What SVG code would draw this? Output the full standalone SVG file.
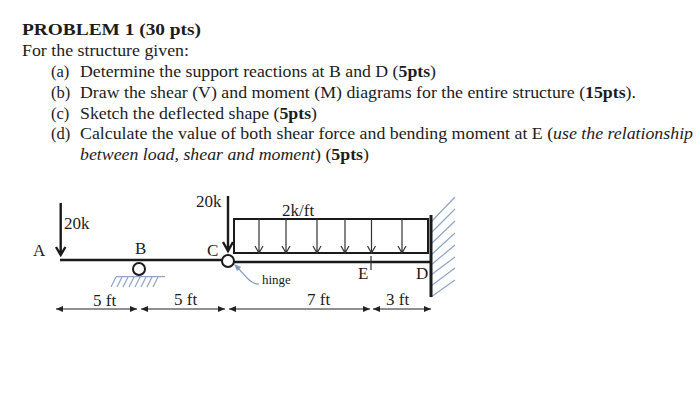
<svg xmlns="http://www.w3.org/2000/svg" width="700" height="405" viewBox="0 0 700 405">
<style>
text{font-family:"Liberation Serif","Times New Roman",serif;fill:#1c1c1c}
.t{font-size:16.5px}
.d{font-size:17px}
.b{font-weight:bold}
.i{font-style:italic}
.beam{stroke:#1a1a1a;stroke-width:2.6;fill:none}
.box{stroke:#1a1a1a;stroke-width:2;fill:none}
.load{stroke:#1a1a1a;stroke-width:2.4;fill:none}
.thin{stroke:#333;stroke-width:1.2;fill:none}
.hatch{stroke:#8fa6c8;stroke-width:1.2;fill:none}
.dim{stroke:#222;stroke-width:1;fill:none;marker-start:url(#ds);marker-end:url(#de)}
.hinge{fill:#fff;stroke:#1a1a1a;stroke-width:2}
</style>
<defs>
<marker id="de" markerUnits="userSpaceOnUse" markerWidth="7" markerHeight="6" refX="7" refY="3" orient="auto"><path d="M0 0L7 3L0 6Z" fill="#222"/></marker>
<marker id="ds" markerUnits="userSpaceOnUse" markerWidth="7" markerHeight="6" refX="0" refY="3" orient="auto"><path d="M7 0L0 3L7 6Z" fill="#222"/></marker>
</defs>
<rect width="700" height="405" fill="#fff"/>
<g id="problem-text">
<text class="t b" x="22" y="35" textLength="179" lengthAdjust="spacingAndGlyphs">PROBLEM 1 (30 pts)</text>
<text class="t" x="22" y="56" textLength="167" lengthAdjust="spacingAndGlyphs">For the structure given:</text>
<text class="t" x="51" y="77">(a)</text>
<text class="t" x="80" y="77" textLength="356" lengthAdjust="spacingAndGlyphs">Determine the support reactions at B and D (<tspan class="b">5pts</tspan>)</text>
<text class="t" x="51" y="98">(b)</text>
<text class="t" x="80" y="98" textLength="556" lengthAdjust="spacingAndGlyphs">Draw the shear (V) and moment (M) diagrams for the entire structure (<tspan class="b">15pts</tspan>).</text>
<text class="t" x="51" y="119">(c)</text>
<text class="t" x="80" y="119" textLength="237" lengthAdjust="spacingAndGlyphs">Sketch the deflected shape (<tspan class="b">5pts</tspan>)</text>
<text class="t" x="51" y="139">(d)</text>
<text class="t" x="80" y="139" textLength="613" lengthAdjust="spacingAndGlyphs">Calculate the value of both shear force and bending moment at E (<tspan class="i">use the relationship</tspan></text>
<text class="t" x="80" y="160" textLength="289" lengthAdjust="spacingAndGlyphs"><tspan class="i">between load, shear and moment</tspan>) (<tspan class="b">5pts</tspan>)</text>
</g>
<g id="connectors">
<path class="hatch" d="M431 222L455 197M431 233L455 209M431 244L455 221M431 255L455 233M431 265L455 245M431 275L455 257M431 286L455 268M431 297L455 280"/>
<path class="hatch" d="M116 276.700H165M111 287L116 277M117 287L122 277M123 287L128 277M129 287L134 277M135 287L140 277M141 287L146 277M147 287L152 277M153 287L158 277"/>
<path class="beam" d="M60 260H228M228 262H431"/>
<path class="beam" style="stroke-width:3" d="M431 215V297"/>
<rect class="box" x="234" y="219" width="194" height="34"/>
<path class="load" d="M60.700 203V254M56 247L60.700 255L65.400 247"/>
<path class="load" d="M228 196V250M223 242L228 251L233 242"/>
<g class="thin">
<path d="M259 219V252M255 246L259 253L263 246"/>
<path d="M286 219V252M282 246L286 253L290 246"/>
<path d="M317 219V252M313 246L317 253L321 246"/>
<path d="M345 219V252M341 246L345 253L349 246"/>
<path d="M371.500 219V252M367.500 246L371.500 253L375.500 246"/>
<path d="M402 219V252M398 246L402 253L406 246"/>
</g>
<path class="thin" d="M371 256V270"/>
<path d="M259 284C250 284 247 277 236 266" stroke="#7f98bf" stroke-width="1.2" fill="none"/>
<path d="M234 264L241 267L237 271Z" fill="#7f98bf"/>
<path class="dim" d="M56 309H137"/>
<path class="dim" d="M141 309H225"/>
<path class="dim" d="M229 309H370"/>
<path class="dim" d="M373 309H431"/>
</g>
<g id="node-A"><text class="d" x="33" y="256">A</text></g>
<g id="node-B"><circle class="hinge" cx="139" cy="269" r="6"/><text class="d" x="135" y="254">B</text></g>
<g id="node-C"><circle class="hinge" cx="228" cy="261" r="6"/><text class="d" x="207" y="256">C</text></g>
<g id="node-D"><text class="d" x="416" y="279">D</text></g>
<g id="node-E"><text class="d" x="358" y="279">E</text></g>
<g id="labels">
<text class="d" x="64" y="229">20k</text>
<text class="d" x="196" y="207">20k</text>
<text class="d" x="282" y="216">2k/ft</text>
<text x="262" y="284" font-size="13">hinge</text>
<text class="d" x="93" y="306">5 ft</text>
<text class="d" x="174" y="305">5 ft</text>
<text class="d" x="307" y="305">7 ft</text>
<text class="d" x="386" y="305">3 ft</text>
</g>
</svg>
